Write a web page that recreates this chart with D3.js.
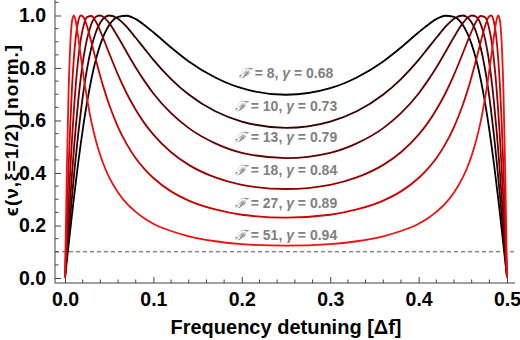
<!DOCTYPE html>
<html><head><meta charset="utf-8">
<script src="https://cdn.jsdelivr.net/npm/d3@7"></script>
<style>
html,body{margin:0;padding:0;background:#fff;}
svg{display:block;font-family:"Liberation Sans",Arial,sans-serif;}
</style></head>
<body>
<svg id="chart" width="520" height="340"></svg>
<script>
// ---- data ----
const detuning = [0,0.002,0.004,0.006,0.008,0.01,0.012,0.015,0.018,0.021,0.025,0.03,0.035,0.04,0.045,0.05,0.06,0.07,0.08,0.09,0.1,0.12,0.14,0.17,0.2,0.25,0.3,0.33,0.36,0.38,0.4,0.41,0.42,0.43,0.44,0.45,0.455,0.46,0.465,0.47,0.475,0.479,0.482,0.485,0.488,0.49,0.492,0.494,0.496,0.498,0.5];
const epsF8  = [0,0.062,0.123,0.184,0.244,0.302,0.358,0.440,0.516,0.586,0.670,0.760,0.833,0.890,0.933,0.964,0.995,0.999,0.986,0.963,0.936,0.878,0.825,0.764,0.723,0.698,0.723,0.764,0.825,0.878,0.936,0.963,0.986,0.999,0.995,0.964,0.933,0.890,0.833,0.760,0.670,0.586,0.516,0.440,0.358,0.302,0.244,0.184,0.123,0.062,0];
const epsF10 = [0,0.080,0.159,0.237,0.312,0.384,0.454,0.550,0.636,0.713,0.798,0.880,0.937,0.973,0.993,1.000,0.988,0.956,0.915,0.873,0.831,0.758,0.699,0.635,0.596,0.572,0.596,0.635,0.699,0.758,0.831,0.873,0.915,0.956,0.988,1.000,0.993,0.973,0.937,0.880,0.798,0.713,0.636,0.550,0.454,0.384,0.312,0.237,0.159,0.080,0];
const epsF13 = [0,0.104,0.206,0.305,0.399,0.487,0.568,0.676,0.767,0.840,0.912,0.969,0.995,1.000,0.990,0.971,0.918,0.859,0.802,0.750,0.703,0.628,0.571,0.513,0.477,0.457,0.477,0.513,0.571,0.628,0.703,0.750,0.802,0.859,0.918,0.971,0.990,1.000,0.995,0.969,0.912,0.840,0.767,0.676,0.568,0.487,0.399,0.305,0.206,0.104,0];
const epsF18 = [0,0.143,0.282,0.413,0.532,0.637,0.728,0.836,0.912,0.961,0.994,0.998,0.976,0.940,0.899,0.856,0.774,0.702,0.641,0.589,0.546,0.479,0.431,0.383,0.355,0.339,0.355,0.383,0.431,0.479,0.546,0.589,0.641,0.702,0.774,0.856,0.899,0.940,0.976,0.998,0.994,0.961,0.912,0.836,0.728,0.637,0.532,0.413,0.282,0.143,0];
const epsF27 = [0,0.214,0.413,0.586,0.728,0.836,0.912,0.978,1.000,0.993,0.958,0.896,0.831,0.768,0.711,0.660,0.575,0.509,0.456,0.415,0.381,0.330,0.295,0.261,0.241,0.230,0.241,0.261,0.295,0.330,0.381,0.415,0.456,0.509,0.575,0.660,0.711,0.768,0.831,0.896,0.958,0.993,1.000,0.978,0.912,0.836,0.728,0.586,0.413,0.214,0];
const epsF51 = [0,0.392,0.700,0.890,0.980,1.000,0.980,0.917,0.841,0.768,0.682,0.593,0.523,0.467,0.421,0.383,0.326,0.283,0.252,0.227,0.207,0.179,0.159,0.140,0.129,0.123,0.129,0.140,0.159,0.179,0.207,0.227,0.252,0.283,0.326,0.383,0.421,0.467,0.523,0.593,0.682,0.768,0.841,0.917,0.980,1.000,0.980,0.890,0.700,0.392,0];
const finesse = ["8","10","13","18","27","51"];
const gammas = ["0.68","0.73","0.79","0.84","0.89","0.94"];
const labelLevels = [0.78,0.655,0.535,0.41,0.285,0.163];
const threshold = 0.1;
const xTickValues = [0,0.1,0.2,0.3,0.4,0.5];
const xTickLabels = ["0.0","0.1","0.2","0.3","0.4","0.5"];
const yTickValues = [0,0.2,0.4,0.6,0.8,1.0];
const yTickLabels = ["0.0","0.2","0.4","0.6","0.8","1.0"];

const series = [epsF8, epsF10, epsF13, epsF18, epsF27, epsF51];
const colors = ["#000000","#330000","#660000","#990000","#cc0000","#f01010"];

// ---- layout ----
const svg = d3.select("#chart");
const mLeft = 55, mRight = 515, mTop = 0, mBottom = 283;
const x = d3.scaleLinear().domain([-0.0113, 0.509]).range([mLeft, mRight]);
const y = d3.scaleLinear().domain([-0.019, 1.059]).range([mBottom, mTop]);

svg.append("defs").append("clipPath").attr("id","clip")
  .append("rect").attr("x",mLeft).attr("y",mTop).attr("width",mRight-mLeft).attr("height",mBottom-mTop);

// threshold dashed line
svg.append("line")
  .attr("x1", mLeft).attr("x2", mRight)
  .attr("y1", y(threshold)).attr("y2", y(threshold))
  .attr("stroke","#555").attr("stroke-width",1.2).attr("stroke-dasharray","4,3");

// curves
const line = d3.line().x((d,i)=>x(detuning[i])).y(d=>y(d)).curve(d3.curveMonotoneX);
const g = svg.append("g").attr("clip-path","url(#clip)");
series.forEach((s,i)=>{
  g.append("path").datum(s).attr("d", line)
   .attr("fill","none").attr("stroke", colors[i]).attr("stroke-width",1.8);
});

// labels
const lab = svg.append("g").attr("fill","#7f7f7f").attr("font-weight","bold").attr("font-size",14);
finesse.forEach((f,i)=>{
  const t = lab.append("text").attr("x", x(0.25)).attr("y", y(labelLevels[i])).attr("dy","0.35em").attr("text-anchor","middle");
  t.append("tspan").attr("font-style","italic").attr("font-family","DejaVu Serif, serif").attr("font-weight","normal").text("\u2131");
  t.append("tspan").text(" = " + f + ", ");
  t.append("tspan").attr("font-style","italic").text("\u03B3");
  t.append("tspan").text(" = " + gammas[i]);
});

// axes
const xAxis = d3.axisBottom(x).tickValues(xTickValues).tickFormat((d,i)=>xTickLabels[i]).tickSizeInner(-6).tickSizeOuter(0).tickPadding(9);
const yAxis = d3.axisLeft(y).tickValues(yTickValues).tickFormat((d,i)=>yTickLabels[i]).tickSizeInner(-6).tickSizeOuter(0).tickPadding(9);
const xMinor = d3.range(0, 0.51, 0.02).filter(v=>Math.abs(v*10-Math.round(v*10))>1e-6);
const yMinor = d3.range(0, 1.06, 0.05).filter(v=>Math.abs(v*5-Math.round(v*5))>1e-6);

const xa = svg.append("g").attr("transform",`translate(0,${mBottom})`).call(xAxis);
const ya = svg.append("g").attr("transform",`translate(${mLeft},0)`).call(yAxis);
[xa,ya].forEach(a=>{
  a.select(".domain").attr("stroke","#444");
  a.selectAll(".tick line").attr("stroke","#444");
  a.selectAll("text").attr("font-size",19.5).attr("font-weight","bold").attr("fill","#000")
   .attr("font-family","Liberation Sans, Arial, sans-serif");
});
xa.select(".domain").attr("d", `M${mLeft},0H${mRight}`);
ya.select(".domain").attr("d", `M0,${mBottom}V${mTop}`);

svg.append("g").selectAll("line").data(xMinor).join("line")
  .attr("x1",d=>x(d)).attr("x2",d=>x(d)).attr("y1",mBottom).attr("y2",mBottom-3.5).attr("stroke","#444");
svg.append("g").selectAll("line").data(yMinor).join("line")
  .attr("y1",d=>y(d)).attr("y2",d=>y(d)).attr("x1",mLeft).attr("x2",mLeft+3.5).attr("stroke","#444");

// axis titles
svg.append("text").attr("x", 286).attr("y", 334).attr("text-anchor","middle")
  .attr("font-size",20).attr("font-weight","bold").text("Frequency detuning [\u0394f]");
svg.append("text").attr("transform","translate(18,130) rotate(-90)").attr("text-anchor","middle")
  .attr("font-size",19).attr("letter-spacing",1).attr("font-weight","bold").text("\u03F5(\u03BD,\u03BE=1/2) [norm.]");
</script>
</body></html>
